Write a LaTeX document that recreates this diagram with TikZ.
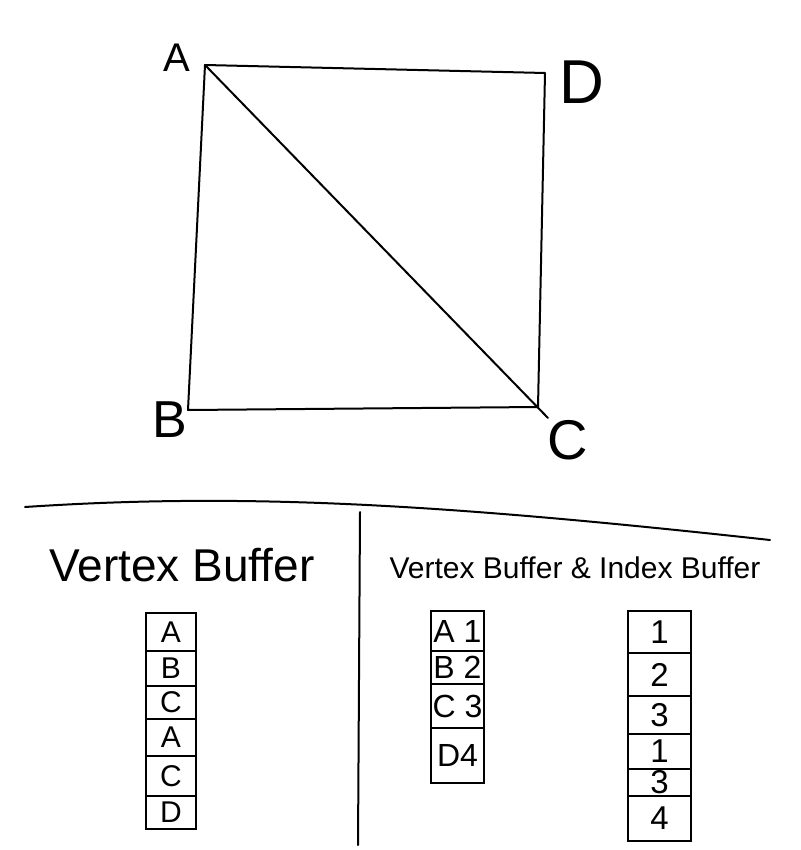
\documentclass[tikz,border=0pt]{standalone}
\usepackage{fontspec}
\setmainfont{Liberation Sans}
\begin{document}
\begin{tikzpicture}[x=1pt,y=-1pt,
  stroke/.style={line width=2pt, line cap=round, line join=round},
  lbl/.style={inner sep=0pt},
  cellbase/.style={draw, line width=2pt, anchor=north west, inner sep=0pt},
  cellA/.style={cellbase, minimum width=50pt, label={[font=\fontsize{30}{32}\selectfont]center:#1}},
  cellB/.style={cellbase, minimum width=53pt, label={[font=\fontsize{32}{34}\selectfont]center:#1}},
  cellC/.style={cellbase, minimum width=63pt, label={[font=\fontsize{33}{35}\selectfont]center:#1}}]
\useasboundingbox (0,0) rectangle (800,850);
% square corners
\coordinate (A) at (205,65);
\coordinate (D) at (545,73);
\coordinate (B) at (188,410);
\coordinate (C) at (538,407);
\coordinate (Cx) at (548,418);
\draw[stroke] (A) -- (D) -- (C);
\draw[stroke] (A) -- (B) -- (C);
\draw[stroke] (A) -- (Cx);
% corner labels
\node[lbl, font=\fontsize{40}{42}\selectfont] (lA) at (177,58) {A};
\node[lbl, font=\fontsize{62}{64}\selectfont] (lD) at (582,82) {D};
\node[lbl, font=\fontsize{52}{54}\selectfont] (lB) at (170,420) {B};
\node[lbl, font=\fontsize{56}{58}\selectfont] (lC) at (568,440) {C};
% dividers
\coordinate (h1) at (25,507);
\coordinate (h2) at (770,540);
\draw[stroke] (h1) .. controls (250,492) and (450,505) .. (h2);
\coordinate (v1) at (360,512);
\coordinate (v2) at (358,845);
\draw[stroke] (v1) -- (v2);
% titles
\node[lbl, font=\fontsize{46}{48}\selectfont] (t1) at (182,565) {Vertex Buffer};
\node[lbl, font=\fontsize{30}{32}\selectfont] (t2) at (575,568) {Vertex Buffer \& Index Buffer};
% left table
\node[cellA=A, minimum height=38pt] (a1) at (145,612) {};
\node[cellA=B, minimum height=35pt] (a2) at (145,650) {};
\node[cellA=C, minimum height=33pt] (a3) at (145,685) {};
\node[cellA=A, minimum height=37pt] (a4) at (145,718) {};
\node[cellA=C, minimum height=40pt] (a5) at (145,755) {};
\node[cellA=D, minimum height=33pt] (a6) at (145,795) {};
% middle table
\node[cellB={A 1}, minimum height=40pt] (b1) at (430,610) {};
\node[cellB={B 2}, minimum height=33pt] (b2) at (430,650) {};
\node[cellB={C 3}, minimum height=44pt] (b3) at (430,683) {};
\node[cellB={D4}, minimum height=55pt] (b4) at (430,727) {};
% right table
\node[cellC=1, minimum height=42pt] (c1) at (627,610) {};
\node[cellC=2, minimum height=43pt] (c2) at (627,652) {};
\node[cellC=3, minimum height=38pt] (c3) at (627,695) {};
\node[cellC=1, minimum height=35pt] (c4) at (627,733) {};
\node[cellC=3, minimum height=27pt] (c5) at (627,768) {};
\node[cellC=4, minimum height=45pt] (c6) at (627,795) {};
\end{tikzpicture}
\end{document}
